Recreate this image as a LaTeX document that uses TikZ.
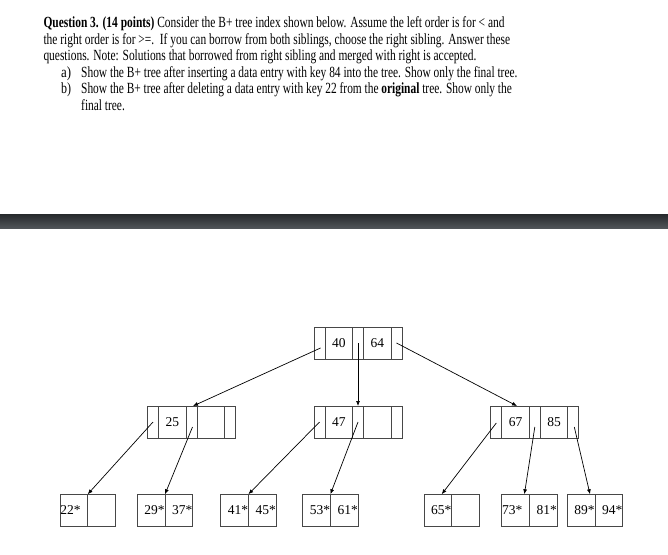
\documentclass[tikz,border=0pt]{standalone}
\usepackage{graphicx}
\usepackage{fontspec}
\setmainfont{Liberation Serif}
\usetikzlibrary{arrows.meta,calc}
\tikzset{
  cell/.style={draw=black!72, line width=1pt, minimum height=32pt, inner sep=0pt, outer sep=0pt, font=\fontsize{13.5}{13.5}\selectfont},
  ptr/.style={cell, minimum width=11pt},
  key/.style={cell, minimum width=27.5pt},
  leafc/.style={cell, minimum width=27.7pt, minimum height=32.5pt, text width=27pt, align=right},
  leafl/.style={leafc, align=left},
  link/.style={line width=0.7pt, -{Latex[length=5pt,width=4pt]}},
  hdr/.style={anchor=base west, inner sep=0pt, font=\fontsize{15.5}{16}\selectfont}
}
\begin{document}
\begin{tikzpicture}[x=1pt,y=-1pt]
\useasboundingbox (0,0) rectangle (668,554);
% header text
\node[hdr] (t1) at (43.3,27.5) {\resizebox{461pt}{\height}{\textbf{Question 3. (14 points)} Consider the B+ tree index shown below. Assume the left order is for < and}};
\node[hdr] (t2) at (43.3,44) {\resizebox{466.7pt}{\height}{the right order is for >=.\ \ If you can borrow from both siblings, choose the right sibling. Answer these}};
\node[hdr] (t3) at (43.3,60.5) {\resizebox{433pt}{\height}{questions. Note: Solutions that borrowed from right sibling and merged with right is accepted.}};
\node[hdr] (la) at (61,77) {\resizebox{10pt}{\height}{a)}};
\node[hdr] (t4) at (81,77) {\resizebox{436.3pt}{\height}{Show the B+ tree after inserting a data entry with key 84 into the tree. Show only the final tree.}};
\node[hdr] (lb) at (61,93.5) {\resizebox{10pt}{\height}{b)}};
\node[hdr] (t5) at (81,93.5) {\resizebox{430.7pt}{\height}{Show the B+ tree after deleting a data entry with key 22 from the \textbf{original} tree. Show only the}};
\node[hdr] (t6) at (81,110) {\resizebox{43.7pt}{\height}{final tree.}};
% dark bar
\shade[top color={rgb,255:red,38;green,41;blue,44}, bottom color={rgb,255:red,80;green,84;blue,88}] (0,214) rectangle (668,228);
% root
\node[ptr, anchor=west] (r0) at (314,343) {};
\node[key, anchor=west] (r1) at (r0.east) {40};
\node[ptr, anchor=west] (r2) at (r1.east) {};
\node[key, anchor=west] (r3) at (r2.east) {64};
\node[ptr, anchor=west] (r4) at (r3.east) {};
% level 2: A
\node[ptr, anchor=west] (a0) at (147.5,422) {};
\node[key, anchor=west] (a1) at (a0.east) {25};
\node[ptr, anchor=west] (a2) at (a1.east) {};
\node[key, anchor=west] (a3) at (a2.east) {};
\node[ptr, anchor=west] (a4) at (a3.east) {};
% B
\node[ptr, anchor=west] (b0) at (314,422) {};
\node[key, anchor=west] (b1) at (b0.east) {47};
\node[ptr, anchor=west] (b2) at (b1.east) {};
\node[key, anchor=west] (b3) at (b2.east) {};
\node[ptr, anchor=west] (b4) at (b3.east) {};
% C
\node[ptr, anchor=west] (c0) at (490.8,422) {};
\node[key, anchor=west] (c1) at (c0.east) {67};
\node[ptr, anchor=west] (c2) at (c1.east) {};
\node[key, anchor=west] (c3) at (c2.east) {85};
\node[ptr, anchor=west] (c4) at (c3.east) {};
% leaves
\node[leafl, anchor=west] (l1a) at (60,510.5) {22*};
\node[leafc, anchor=west] (l1b) at (l1a.east) {};
\node[leafc, anchor=west] (l2a) at (137.3,510.5) {29*};
\node[leafc, anchor=west] (l2b) at (l2a.east) {37*};
\node[leafc, anchor=west] (l3a) at (220.7,510.5) {41*};
\node[leafc, anchor=west] (l3b) at (l3a.east) {45*};
\node[leafc, anchor=west] (l4a) at (302.7,510.5) {53*};
\node[leafc, anchor=west] (l4b) at (l4a.east) {61*};
\node[leafc, anchor=west] (l5a) at (424,510.5) {65*};
\node[leafc, anchor=west] (l5b) at (l5a.east) {};
\node[leafl, anchor=west] (l6a) at (501.7,510.5) {73*};
\node[leafc, anchor=west] (l6b) at (l6a.east) {81*};
\node[leafc, anchor=west] (l7a) at (567.3,510.5) {89*};
\node[leafc, anchor=west] (l7b) at (l7a.east) {94*};
% links
\draw[link] ($(r0.center)+(1,5)$) -- ($(a2.north)+(1.5,0)$);
\draw[link] (r2.center) -- (b2.north);
\draw[link] (r4.center) -- ($(c1.north)+(1.5,0)$);
\draw[link] (a0.center) -- (l1a.north east);
\draw[link] ($(a2.center)+(1,5)$) -- (l2a.north east);
\draw[link] (b0.center) -- (l3a.north east);
\draw[link] (b2.center) -- (l4a.north east);
\draw[link] ($(c0.center)+(0,1)$) -- ($(l5a.north east)+(-10,0)$);
\draw[link] ($(c2.center)+(0,5)$) -- ($(l6a.north east)+(-5,0)$);
\draw[link] ($(c4.center)+(1,5)$) -- ($(l7a.north east)+(-5,0)$);
\end{tikzpicture}
\end{document}
